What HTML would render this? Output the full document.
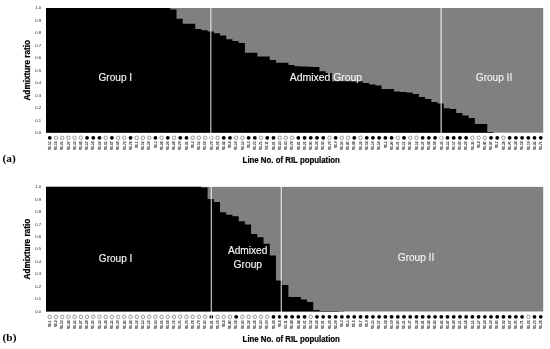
<!DOCTYPE html>
<html><head><meta charset="utf-8"><title>Admixture ratio of RIL population</title>
<style>
html,body{margin:0;padding:0;background:#fff;}
svg{display:block;}
text{font-family:"Liberation Sans",sans-serif;}
.tk{font-size:4.2px;fill:#111;}
.lb{font-size:3.3px;fill:#111;stroke:#111;stroke-width:0.06px;}
.yt{font-size:8.6px;font-weight:bold;fill:#000;stroke:#000;stroke-width:0.25px;}
.xt{font-size:8.5px;font-weight:bold;fill:#000;stroke:#000;stroke-width:0.2px;}
.gp{font-size:10.1px;fill:#f4f4f4;stroke:#f4f4f4;stroke-width:0.15px;}
.pl{font-family:"Liberation Serif",serif;font-size:11.3px;font-weight:bold;fill:#000;}
</style></head><body>
<svg width="550" height="349" viewBox="0 0 550 349">
<rect width="550" height="349" fill="#fff"/>
<rect x="46.0" y="8.0" width="497.20" height="124.70" fill="#808080"/>
<polygon points="46.00,132.70 46.00,8.00 52.22,8.00 52.22,8.00 58.43,8.00 58.43,8.00 64.65,8.00 64.65,8.00 70.86,8.00 70.86,8.00 77.08,8.00 77.08,8.00 83.29,8.00 83.29,8.00 89.50,8.00 89.50,8.00 95.72,8.00 95.72,8.00 101.94,8.00 101.94,8.00 108.15,8.00 108.15,8.00 114.37,8.00 114.37,8.00 120.58,8.00 120.58,8.00 126.80,8.00 126.80,8.00 133.01,8.00 133.01,8.00 139.23,8.00 139.23,8.00 145.44,8.00 145.44,8.00 151.66,8.00 151.66,8.00 157.87,8.00 157.87,8.00 164.09,8.00 164.09,8.00 170.30,8.00 170.30,9.50 176.52,9.50 176.52,18.85 182.73,18.85 182.73,23.84 188.95,23.84 188.95,23.84 195.16,23.84 195.16,29.07 201.38,29.07 201.38,30.32 207.59,30.32 207.59,31.57 213.81,31.57 213.81,33.19 220.02,33.19 220.02,35.56 226.24,35.56 226.24,39.30 232.45,39.30 232.45,41.05 238.67,41.05 238.67,43.04 244.88,43.04 244.88,52.64 251.10,52.64 251.10,52.64 257.31,52.64 257.31,56.51 263.53,56.51 263.53,56.51 269.74,56.51 269.74,60.06 275.96,60.06 275.96,62.87 282.17,62.87 282.17,62.87 288.38,62.87 288.38,65.11 294.60,65.11 294.60,66.23 300.82,66.23 300.82,66.48 307.03,66.48 307.03,66.73 313.25,66.73 313.25,66.98 319.46,66.98 319.46,71.16 325.68,71.16 325.68,73.09 331.89,73.09 331.89,81.32 338.11,81.32 338.11,81.32 344.32,81.32 344.32,81.32 350.54,81.32 350.54,81.45 356.75,81.45 356.75,81.45 362.97,81.45 362.97,83.07 369.18,83.07 369.18,84.57 375.40,84.57 375.40,85.56 381.61,85.56 381.61,88.93 387.83,88.93 387.83,88.93 394.04,88.93 394.04,91.42 400.26,91.42 400.26,91.92 406.47,91.92 406.47,92.42 412.69,92.42 412.69,94.04 418.90,94.04 418.90,97.04 425.12,97.04 425.12,99.03 431.33,99.03 431.33,101.90 437.55,101.90 437.55,103.58 443.76,103.58 443.76,108.13 449.98,108.13 449.98,108.88 456.19,108.88 456.19,113.00 462.41,113.00 462.41,115.62 468.62,115.62 468.62,118.11 474.84,118.11 474.84,124.10 481.05,124.10 481.05,124.10 487.27,124.10 487.27,131.95 493.48,131.95 493.48,132.70 499.70,132.70 499.70,132.70 505.91,132.70 505.91,132.70 512.12,132.70 512.12,132.70 518.34,132.70 518.34,132.70 524.56,132.70 524.56,132.70 530.77,132.70 530.77,132.70 536.99,132.70 536.99,132.70 543.20,132.70 543.20,132.70" fill="#000"/>
<text class="tk" x="41" y="134.00" text-anchor="end">0.0</text>
<text class="tk" x="41" y="121.53" text-anchor="end">0.1</text>
<text class="tk" x="41" y="109.06" text-anchor="end">0.2</text>
<text class="tk" x="41" y="96.59" text-anchor="end">0.3</text>
<text class="tk" x="41" y="84.12" text-anchor="end">0.4</text>
<text class="tk" x="41" y="71.65" text-anchor="end">0.5</text>
<text class="tk" x="41" y="59.18" text-anchor="end">0.6</text>
<text class="tk" x="41" y="46.71" text-anchor="end">0.7</text>
<text class="tk" x="41" y="34.24" text-anchor="end">0.8</text>
<text class="tk" x="41" y="21.77" text-anchor="end">0.9</text>
<text class="tk" x="41" y="9.30" text-anchor="end">1.0</text>
<circle cx="49.75" cy="137.8" r="1.9" fill="#000"/>
<text class="lb" transform="translate(50.95,141.4) rotate(-90)" text-anchor="end">RIL13</text>
<circle cx="55.97" cy="137.8" r="1.75" fill="#fff" stroke="#222" stroke-width="0.45"/>
<text class="lb" transform="translate(57.17,141.4) rotate(-90)" text-anchor="end">RIL16</text>
<circle cx="62.18" cy="137.8" r="1.75" fill="#fff" stroke="#222" stroke-width="0.45"/>
<text class="lb" transform="translate(63.38,141.4) rotate(-90)" text-anchor="end">RIL25</text>
<circle cx="68.39" cy="137.8" r="1.75" fill="#fff" stroke="#222" stroke-width="0.45"/>
<text class="lb" transform="translate(69.59,141.4) rotate(-90)" text-anchor="end">RIL27</text>
<circle cx="74.61" cy="137.8" r="1.75" fill="#fff" stroke="#222" stroke-width="0.45"/>
<text class="lb" transform="translate(75.81,141.4) rotate(-90)" text-anchor="end">RIL33</text>
<circle cx="80.83" cy="137.8" r="1.75" fill="#fff" stroke="#222" stroke-width="0.45"/>
<text class="lb" transform="translate(82.03,141.4) rotate(-90)" text-anchor="end">RIL46</text>
<circle cx="87.04" cy="137.8" r="1.9" fill="#000"/>
<text class="lb" transform="translate(88.24,141.4) rotate(-90)" text-anchor="end">RIL57</text>
<circle cx="93.25" cy="137.8" r="1.9" fill="#000"/>
<text class="lb" transform="translate(94.45,141.4) rotate(-90)" text-anchor="end">RIL58</text>
<circle cx="99.47" cy="137.8" r="1.9" fill="#000"/>
<text class="lb" transform="translate(100.67,141.4) rotate(-90)" text-anchor="end">RIL62</text>
<circle cx="105.69" cy="137.8" r="1.75" fill="#fff" stroke="#222" stroke-width="0.45"/>
<text class="lb" transform="translate(106.89,141.4) rotate(-90)" text-anchor="end">RIL65</text>
<circle cx="111.90" cy="137.8" r="1.9" fill="#000"/>
<text class="lb" transform="translate(113.10,141.4) rotate(-90)" text-anchor="end">RIL67</text>
<circle cx="118.11" cy="137.8" r="1.75" fill="#fff" stroke="#222" stroke-width="0.45"/>
<text class="lb" transform="translate(119.31,141.4) rotate(-90)" text-anchor="end">RIL68</text>
<circle cx="124.33" cy="137.8" r="1.75" fill="#fff" stroke="#222" stroke-width="0.45"/>
<text class="lb" transform="translate(125.53,141.4) rotate(-90)" text-anchor="end">RIL72</text>
<circle cx="130.55" cy="137.8" r="1.9" fill="#000"/>
<text class="lb" transform="translate(131.75,141.4) rotate(-90)" text-anchor="end">RIL74</text>
<circle cx="136.76" cy="137.8" r="1.75" fill="#fff" stroke="#222" stroke-width="0.45"/>
<text class="lb" transform="translate(137.96,141.4) rotate(-90)" text-anchor="end">RIL1</text>
<circle cx="142.97" cy="137.8" r="1.75" fill="#fff" stroke="#222" stroke-width="0.45"/>
<text class="lb" transform="translate(144.17,141.4) rotate(-90)" text-anchor="end">RIL12</text>
<circle cx="149.19" cy="137.8" r="1.75" fill="#fff" stroke="#222" stroke-width="0.45"/>
<text class="lb" transform="translate(150.39,141.4) rotate(-90)" text-anchor="end">RIL39</text>
<circle cx="155.41" cy="137.8" r="1.9" fill="#000"/>
<text class="lb" transform="translate(156.60,141.4) rotate(-90)" text-anchor="end">RIL3</text>
<circle cx="161.62" cy="137.8" r="1.75" fill="#fff" stroke="#222" stroke-width="0.45"/>
<text class="lb" transform="translate(162.82,141.4) rotate(-90)" text-anchor="end">RIL24</text>
<circle cx="167.83" cy="137.8" r="1.9" fill="#000"/>
<text class="lb" transform="translate(169.03,141.4) rotate(-90)" text-anchor="end">RIL26</text>
<circle cx="174.05" cy="137.8" r="1.75" fill="#fff" stroke="#222" stroke-width="0.45"/>
<text class="lb" transform="translate(175.25,141.4) rotate(-90)" text-anchor="end">RIL28</text>
<circle cx="180.26" cy="137.8" r="1.9" fill="#000"/>
<text class="lb" transform="translate(181.46,141.4) rotate(-90)" text-anchor="end">RIL29</text>
<circle cx="186.48" cy="137.8" r="1.9" fill="#000"/>
<text class="lb" transform="translate(187.68,141.4) rotate(-90)" text-anchor="end">RIL41</text>
<circle cx="192.69" cy="137.8" r="1.75" fill="#fff" stroke="#222" stroke-width="0.45"/>
<text class="lb" transform="translate(193.89,141.4) rotate(-90)" text-anchor="end">RIL2</text>
<circle cx="198.91" cy="137.8" r="1.75" fill="#fff" stroke="#222" stroke-width="0.45"/>
<text class="lb" transform="translate(200.11,141.4) rotate(-90)" text-anchor="end">RIL15</text>
<circle cx="205.12" cy="137.8" r="1.75" fill="#fff" stroke="#222" stroke-width="0.45"/>
<text class="lb" transform="translate(206.32,141.4) rotate(-90)" text-anchor="end">RIL69</text>
<circle cx="211.34" cy="137.8" r="1.75" fill="#fff" stroke="#222" stroke-width="0.45"/>
<text class="lb" transform="translate(212.54,141.4) rotate(-90)" text-anchor="end">RIL76</text>
<circle cx="217.56" cy="137.8" r="1.75" fill="#fff" stroke="#222" stroke-width="0.45"/>
<text class="lb" transform="translate(218.75,141.4) rotate(-90)" text-anchor="end">RIL66</text>
<circle cx="223.77" cy="137.8" r="1.9" fill="#000"/>
<text class="lb" transform="translate(224.97,141.4) rotate(-90)" text-anchor="end">RIL42</text>
<circle cx="229.98" cy="137.8" r="1.9" fill="#000"/>
<text class="lb" transform="translate(231.18,141.4) rotate(-90)" text-anchor="end">RIL4</text>
<circle cx="236.20" cy="137.8" r="1.75" fill="#fff" stroke="#222" stroke-width="0.45"/>
<text class="lb" transform="translate(237.40,141.4) rotate(-90)" text-anchor="end">RIL56</text>
<circle cx="242.41" cy="137.8" r="1.75" fill="#fff" stroke="#222" stroke-width="0.45"/>
<text class="lb" transform="translate(243.61,141.4) rotate(-90)" text-anchor="end">RIL53</text>
<circle cx="248.63" cy="137.8" r="1.9" fill="#000"/>
<text class="lb" transform="translate(249.83,141.4) rotate(-90)" text-anchor="end">RIL6</text>
<circle cx="254.84" cy="137.8" r="1.9" fill="#000"/>
<text class="lb" transform="translate(256.05,141.4) rotate(-90)" text-anchor="end">RIL73</text>
<circle cx="261.06" cy="137.8" r="1.75" fill="#fff" stroke="#222" stroke-width="0.45"/>
<text class="lb" transform="translate(262.26,141.4) rotate(-90)" text-anchor="end">RIL75</text>
<circle cx="267.27" cy="137.8" r="1.9" fill="#000"/>
<text class="lb" transform="translate(268.47,141.4) rotate(-90)" text-anchor="end">RIL11</text>
<circle cx="273.49" cy="137.8" r="1.9" fill="#000"/>
<text class="lb" transform="translate(274.69,141.4) rotate(-90)" text-anchor="end">RIL61</text>
<circle cx="279.70" cy="137.8" r="1.75" fill="#fff" stroke="#222" stroke-width="0.45"/>
<text class="lb" transform="translate(280.90,141.4) rotate(-90)" text-anchor="end">RIL23</text>
<circle cx="285.92" cy="137.8" r="1.75" fill="#fff" stroke="#222" stroke-width="0.45"/>
<text class="lb" transform="translate(287.12,141.4) rotate(-90)" text-anchor="end">RIL63</text>
<circle cx="292.13" cy="137.8" r="1.75" fill="#fff" stroke="#222" stroke-width="0.45"/>
<text class="lb" transform="translate(293.33,141.4) rotate(-90)" text-anchor="end">RIL78</text>
<circle cx="298.35" cy="137.8" r="1.9" fill="#000"/>
<text class="lb" transform="translate(299.55,141.4) rotate(-90)" text-anchor="end">RIL81</text>
<circle cx="304.56" cy="137.8" r="1.9" fill="#000"/>
<text class="lb" transform="translate(305.76,141.4) rotate(-90)" text-anchor="end">RIL21</text>
<circle cx="310.78" cy="137.8" r="1.9" fill="#000"/>
<text class="lb" transform="translate(311.98,141.4) rotate(-90)" text-anchor="end">RIL60</text>
<circle cx="317.00" cy="137.8" r="1.9" fill="#000"/>
<text class="lb" transform="translate(318.19,141.4) rotate(-90)" text-anchor="end">RIL36</text>
<circle cx="323.21" cy="137.8" r="1.9" fill="#000"/>
<text class="lb" transform="translate(324.41,141.4) rotate(-90)" text-anchor="end">RIL43</text>
<circle cx="329.43" cy="137.8" r="1.75" fill="#fff" stroke="#222" stroke-width="0.45"/>
<text class="lb" transform="translate(330.62,141.4) rotate(-90)" text-anchor="end">RIL79</text>
<circle cx="335.64" cy="137.8" r="1.9" fill="#000"/>
<text class="lb" transform="translate(336.84,141.4) rotate(-90)" text-anchor="end">RIL9</text>
<circle cx="341.86" cy="137.8" r="1.75" fill="#fff" stroke="#222" stroke-width="0.45"/>
<text class="lb" transform="translate(343.06,141.4) rotate(-90)" text-anchor="end">RIL50</text>
<circle cx="348.07" cy="137.8" r="1.75" fill="#fff" stroke="#222" stroke-width="0.45"/>
<text class="lb" transform="translate(349.27,141.4) rotate(-90)" text-anchor="end">RIL80</text>
<circle cx="354.28" cy="137.8" r="1.9" fill="#000"/>
<text class="lb" transform="translate(355.48,141.4) rotate(-90)" text-anchor="end">RIL44</text>
<circle cx="360.50" cy="137.8" r="1.75" fill="#fff" stroke="#222" stroke-width="0.45"/>
<text class="lb" transform="translate(361.70,141.4) rotate(-90)" text-anchor="end">RIL32</text>
<circle cx="366.71" cy="137.8" r="1.9" fill="#000"/>
<text class="lb" transform="translate(367.91,141.4) rotate(-90)" text-anchor="end">RIL14</text>
<circle cx="372.93" cy="137.8" r="1.9" fill="#000"/>
<text class="lb" transform="translate(374.13,141.4) rotate(-90)" text-anchor="end">RIL59</text>
<circle cx="379.14" cy="137.8" r="1.9" fill="#000"/>
<text class="lb" transform="translate(380.34,141.4) rotate(-90)" text-anchor="end">RIL54</text>
<circle cx="385.36" cy="137.8" r="1.9" fill="#000"/>
<text class="lb" transform="translate(386.56,141.4) rotate(-90)" text-anchor="end">RIL5</text>
<circle cx="391.57" cy="137.8" r="1.9" fill="#000"/>
<text class="lb" transform="translate(392.77,141.4) rotate(-90)" text-anchor="end">RIL20</text>
<circle cx="397.79" cy="137.8" r="1.75" fill="#fff" stroke="#222" stroke-width="0.45"/>
<text class="lb" transform="translate(398.99,141.4) rotate(-90)" text-anchor="end">RIL31</text>
<circle cx="404.00" cy="137.8" r="1.9" fill="#000"/>
<text class="lb" transform="translate(405.20,141.4) rotate(-90)" text-anchor="end">RIL51</text>
<circle cx="410.22" cy="137.8" r="1.75" fill="#fff" stroke="#222" stroke-width="0.45"/>
<text class="lb" transform="translate(411.42,141.4) rotate(-90)" text-anchor="end">RIL10</text>
<circle cx="416.44" cy="137.8" r="1.75" fill="#fff" stroke="#222" stroke-width="0.45"/>
<text class="lb" transform="translate(417.63,141.4) rotate(-90)" text-anchor="end">RIL52</text>
<circle cx="422.65" cy="137.8" r="1.9" fill="#000"/>
<text class="lb" transform="translate(423.85,141.4) rotate(-90)" text-anchor="end">RIL37</text>
<circle cx="428.87" cy="137.8" r="1.9" fill="#000"/>
<text class="lb" transform="translate(430.06,141.4) rotate(-90)" text-anchor="end">RIL48</text>
<circle cx="435.08" cy="137.8" r="1.9" fill="#000"/>
<text class="lb" transform="translate(436.28,141.4) rotate(-90)" text-anchor="end">RIL64</text>
<circle cx="441.30" cy="137.8" r="1.75" fill="#fff" stroke="#222" stroke-width="0.45"/>
<text class="lb" transform="translate(442.50,141.4) rotate(-90)" text-anchor="end">RIL35</text>
<circle cx="447.51" cy="137.8" r="1.9" fill="#000"/>
<text class="lb" transform="translate(448.71,141.4) rotate(-90)" text-anchor="end">RIL55</text>
<circle cx="453.72" cy="137.8" r="1.9" fill="#000"/>
<text class="lb" transform="translate(454.92,141.4) rotate(-90)" text-anchor="end">RIL17</text>
<circle cx="459.94" cy="137.8" r="1.9" fill="#000"/>
<text class="lb" transform="translate(461.14,141.4) rotate(-90)" text-anchor="end">RIL49</text>
<circle cx="466.15" cy="137.8" r="1.9" fill="#000"/>
<text class="lb" transform="translate(467.35,141.4) rotate(-90)" text-anchor="end">RIL22</text>
<circle cx="472.37" cy="137.8" r="1.75" fill="#fff" stroke="#222" stroke-width="0.45"/>
<text class="lb" transform="translate(473.57,141.4) rotate(-90)" text-anchor="end">RIL30</text>
<circle cx="478.58" cy="137.8" r="1.75" fill="#fff" stroke="#222" stroke-width="0.45"/>
<text class="lb" transform="translate(479.78,141.4) rotate(-90)" text-anchor="end">RIL8</text>
<circle cx="484.80" cy="137.8" r="1.75" fill="#fff" stroke="#222" stroke-width="0.45"/>
<text class="lb" transform="translate(486.00,141.4) rotate(-90)" text-anchor="end">RIL40</text>
<circle cx="491.01" cy="137.8" r="1.9" fill="#000"/>
<text class="lb" transform="translate(492.21,141.4) rotate(-90)" text-anchor="end">RIL47</text>
<circle cx="497.23" cy="137.8" r="1.9" fill="#000"/>
<text class="lb" transform="translate(498.43,141.4) rotate(-90)" text-anchor="end">RIL7</text>
<circle cx="503.44" cy="137.8" r="1.75" fill="#fff" stroke="#222" stroke-width="0.45"/>
<text class="lb" transform="translate(504.64,141.4) rotate(-90)" text-anchor="end">RIL34</text>
<circle cx="509.66" cy="137.8" r="1.9" fill="#000"/>
<text class="lb" transform="translate(510.86,141.4) rotate(-90)" text-anchor="end">RIL70</text>
<circle cx="515.88" cy="137.8" r="1.9" fill="#000"/>
<text class="lb" transform="translate(517.08,141.4) rotate(-90)" text-anchor="end">RIL38</text>
<circle cx="522.09" cy="137.8" r="1.9" fill="#000"/>
<text class="lb" transform="translate(523.29,141.4) rotate(-90)" text-anchor="end">RIL18</text>
<circle cx="528.31" cy="137.8" r="1.9" fill="#000"/>
<text class="lb" transform="translate(529.51,141.4) rotate(-90)" text-anchor="end">RIL19</text>
<circle cx="534.52" cy="137.8" r="1.9" fill="#000"/>
<text class="lb" transform="translate(535.72,141.4) rotate(-90)" text-anchor="end">RIL45</text>
<circle cx="540.74" cy="137.8" r="1.9" fill="#000"/>
<text class="lb" transform="translate(541.94,141.4) rotate(-90)" text-anchor="end">RIL71</text>
<rect x="210.40" y="7.0" width="0.9" height="132.80" fill="#fff"/>
<rect x="440.60" y="7.0" width="1.0" height="132.80" fill="#fff"/>
<text class="yt" transform="translate(29.5,100.55) rotate(-90)" textLength="60.6" lengthAdjust="spacingAndGlyphs">Admixture ratio</text>
<text class="gp" x="98.5" y="81.1" textLength="33.6" lengthAdjust="spacingAndGlyphs">Group I</text>
<text class="gp" x="289.8" y="81.1" textLength="72.3" lengthAdjust="spacingAndGlyphs">Admixed Group</text>
<text class="gp" x="475.8" y="81.0" textLength="36.4" lengthAdjust="spacingAndGlyphs">Group II</text>
<text class="pl" x="2.6" y="162.3">(a)</text>
<text class="xt" x="242.6" y="162.7" textLength="97.3" lengthAdjust="spacingAndGlyphs">Line No. of RIL population</text>
<rect x="46.0" y="186.85" width="497.20" height="124.65" fill="#808080"/>
<polygon points="46.00,311.50 46.00,186.85 52.22,186.85 52.22,186.85 58.43,186.85 58.43,186.85 64.65,186.85 64.65,186.85 70.86,186.85 70.86,186.85 77.08,186.85 77.08,186.85 83.29,186.85 83.29,186.85 89.50,186.85 89.50,186.85 95.72,186.85 95.72,186.85 101.94,186.85 101.94,186.85 108.15,186.85 108.15,186.85 114.37,186.85 114.37,186.85 120.58,186.85 120.58,186.85 126.80,186.85 126.80,186.85 133.01,186.85 133.01,186.85 139.23,186.85 139.23,186.85 145.44,186.85 145.44,186.85 151.66,186.85 151.66,186.85 157.87,186.85 157.87,186.85 164.09,186.85 164.09,186.85 170.30,186.85 170.30,186.85 176.52,186.85 176.52,186.85 182.73,186.85 182.73,186.85 188.95,186.85 188.95,186.85 195.16,186.85 195.16,186.85 201.38,186.85 201.38,187.47 207.59,187.47 207.59,199.07 213.81,199.07 213.81,202.06 220.02,202.06 220.02,212.15 226.24,212.15 226.24,214.82 232.45,214.82 232.45,216.27 238.67,216.27 238.67,221.25 244.88,221.25 244.88,224.62 251.10,224.62 251.10,233.97 257.31,233.97 257.31,237.21 263.53,237.21 263.53,243.85 269.74,243.85 269.74,255.59 275.96,255.59 275.96,280.50 282.17,280.50 282.17,285.00 288.38,285.00 288.38,297.07 294.60,297.07 294.60,297.07 300.82,297.07 300.82,299.58 307.03,299.58 307.03,302.09 313.25,302.09 313.25,310.00 319.46,310.00 319.46,311.00 325.68,311.00 325.68,311.00 331.89,311.00 331.89,311.00 338.11,311.00 338.11,311.13 344.32,311.13 344.32,311.50 350.54,311.50 350.54,311.50 356.75,311.50 356.75,311.50 362.97,311.50 362.97,311.50 369.18,311.50 369.18,311.50 375.40,311.50 375.40,311.50 381.61,311.50 381.61,311.50 387.83,311.50 387.83,311.50 394.04,311.50 394.04,311.50 400.26,311.50 400.26,311.50 406.47,311.50 406.47,311.50 412.69,311.50 412.69,311.50 418.90,311.50 418.90,311.50 425.12,311.50 425.12,311.50 431.33,311.50 431.33,311.50 437.55,311.50 437.55,311.50 443.76,311.50 443.76,311.50 449.98,311.50 449.98,311.50 456.19,311.50 456.19,311.50 462.41,311.50 462.41,311.50 468.62,311.50 468.62,311.50 474.84,311.50 474.84,311.50 481.05,311.50 481.05,311.50 487.27,311.50 487.27,311.50 493.48,311.50 493.48,311.50 499.70,311.50 499.70,311.50 505.91,311.50 505.91,311.50 512.12,311.50 512.12,311.50 518.34,311.50 518.34,311.50 524.56,311.50 524.56,311.50 530.77,311.50 530.77,311.50 536.99,311.50 536.99,311.50 543.20,311.50 543.20,311.50" fill="#000"/>
<text class="tk" x="41" y="312.80" text-anchor="end">0.0</text>
<text class="tk" x="41" y="300.33" text-anchor="end">0.1</text>
<text class="tk" x="41" y="287.87" text-anchor="end">0.2</text>
<text class="tk" x="41" y="275.41" text-anchor="end">0.3</text>
<text class="tk" x="41" y="262.94" text-anchor="end">0.4</text>
<text class="tk" x="41" y="250.48" text-anchor="end">0.5</text>
<text class="tk" x="41" y="238.01" text-anchor="end">0.6</text>
<text class="tk" x="41" y="225.55" text-anchor="end">0.7</text>
<text class="tk" x="41" y="213.08" text-anchor="end">0.8</text>
<text class="tk" x="41" y="200.62" text-anchor="end">0.9</text>
<text class="tk" x="41" y="188.15" text-anchor="end">1.0</text>
<circle cx="49.75" cy="316.8" r="1.75" fill="#fff" stroke="#222" stroke-width="0.45"/>
<text class="lb" transform="translate(50.95,320.4) rotate(-90)" text-anchor="end">RIL1</text>
<circle cx="55.97" cy="316.8" r="1.75" fill="#fff" stroke="#222" stroke-width="0.45"/>
<text class="lb" transform="translate(57.17,320.4) rotate(-90)" text-anchor="end">RIL2</text>
<circle cx="62.18" cy="316.8" r="1.75" fill="#fff" stroke="#222" stroke-width="0.45"/>
<text class="lb" transform="translate(63.38,320.4) rotate(-90)" text-anchor="end">RIL13</text>
<circle cx="68.39" cy="316.8" r="1.75" fill="#fff" stroke="#222" stroke-width="0.45"/>
<text class="lb" transform="translate(69.59,320.4) rotate(-90)" text-anchor="end">RIL24</text>
<circle cx="74.61" cy="316.8" r="1.75" fill="#fff" stroke="#222" stroke-width="0.45"/>
<text class="lb" transform="translate(75.81,320.4) rotate(-90)" text-anchor="end">RIL25</text>
<circle cx="80.83" cy="316.8" r="1.75" fill="#fff" stroke="#222" stroke-width="0.45"/>
<text class="lb" transform="translate(82.03,320.4) rotate(-90)" text-anchor="end">RIL27</text>
<circle cx="87.04" cy="316.8" r="1.75" fill="#fff" stroke="#222" stroke-width="0.45"/>
<text class="lb" transform="translate(88.24,320.4) rotate(-90)" text-anchor="end">RIL28</text>
<circle cx="93.25" cy="316.8" r="1.75" fill="#fff" stroke="#222" stroke-width="0.45"/>
<text class="lb" transform="translate(94.45,320.4) rotate(-90)" text-anchor="end">RIL30</text>
<circle cx="99.47" cy="316.8" r="1.75" fill="#fff" stroke="#222" stroke-width="0.45"/>
<text class="lb" transform="translate(100.67,320.4) rotate(-90)" text-anchor="end">RIL33</text>
<circle cx="105.69" cy="316.8" r="1.75" fill="#fff" stroke="#222" stroke-width="0.45"/>
<text class="lb" transform="translate(106.89,320.4) rotate(-90)" text-anchor="end">RIL34</text>
<circle cx="111.90" cy="316.8" r="1.75" fill="#fff" stroke="#222" stroke-width="0.45"/>
<text class="lb" transform="translate(113.10,320.4) rotate(-90)" text-anchor="end">RIL35</text>
<circle cx="118.11" cy="316.8" r="1.75" fill="#fff" stroke="#222" stroke-width="0.45"/>
<text class="lb" transform="translate(119.31,320.4) rotate(-90)" text-anchor="end">RIL39</text>
<circle cx="124.33" cy="316.8" r="1.75" fill="#fff" stroke="#222" stroke-width="0.45"/>
<text class="lb" transform="translate(125.53,320.4) rotate(-90)" text-anchor="end">RIL40</text>
<circle cx="130.55" cy="316.8" r="1.75" fill="#fff" stroke="#222" stroke-width="0.45"/>
<text class="lb" transform="translate(131.75,320.4) rotate(-90)" text-anchor="end">RIL46</text>
<circle cx="136.76" cy="316.8" r="1.75" fill="#fff" stroke="#222" stroke-width="0.45"/>
<text class="lb" transform="translate(137.96,320.4) rotate(-90)" text-anchor="end">RIL52</text>
<circle cx="142.97" cy="316.8" r="1.75" fill="#fff" stroke="#222" stroke-width="0.45"/>
<text class="lb" transform="translate(144.17,320.4) rotate(-90)" text-anchor="end">RIL53</text>
<circle cx="149.19" cy="316.8" r="1.75" fill="#fff" stroke="#222" stroke-width="0.45"/>
<text class="lb" transform="translate(150.39,320.4) rotate(-90)" text-anchor="end">RIL56</text>
<circle cx="155.41" cy="316.8" r="1.75" fill="#fff" stroke="#222" stroke-width="0.45"/>
<text class="lb" transform="translate(156.60,320.4) rotate(-90)" text-anchor="end">RIL63</text>
<circle cx="161.62" cy="316.8" r="1.75" fill="#fff" stroke="#222" stroke-width="0.45"/>
<text class="lb" transform="translate(162.82,320.4) rotate(-90)" text-anchor="end">RIL65</text>
<circle cx="167.83" cy="316.8" r="1.75" fill="#fff" stroke="#222" stroke-width="0.45"/>
<text class="lb" transform="translate(169.03,320.4) rotate(-90)" text-anchor="end">RIL68</text>
<circle cx="174.05" cy="316.8" r="1.75" fill="#fff" stroke="#222" stroke-width="0.45"/>
<text class="lb" transform="translate(175.25,320.4) rotate(-90)" text-anchor="end">RIL72</text>
<circle cx="180.26" cy="316.8" r="1.75" fill="#fff" stroke="#222" stroke-width="0.45"/>
<text class="lb" transform="translate(181.46,320.4) rotate(-90)" text-anchor="end">RIL75</text>
<circle cx="186.48" cy="316.8" r="1.75" fill="#fff" stroke="#222" stroke-width="0.45"/>
<text class="lb" transform="translate(187.68,320.4) rotate(-90)" text-anchor="end">RIL76</text>
<circle cx="192.69" cy="316.8" r="1.75" fill="#fff" stroke="#222" stroke-width="0.45"/>
<text class="lb" transform="translate(193.89,320.4) rotate(-90)" text-anchor="end">RIL78</text>
<circle cx="198.91" cy="316.8" r="1.75" fill="#fff" stroke="#222" stroke-width="0.45"/>
<text class="lb" transform="translate(200.11,320.4) rotate(-90)" text-anchor="end">RIL79</text>
<circle cx="205.12" cy="316.8" r="1.75" fill="#fff" stroke="#222" stroke-width="0.45"/>
<text class="lb" transform="translate(206.32,320.4) rotate(-90)" text-anchor="end">RIL50</text>
<circle cx="211.34" cy="316.8" r="1.9" fill="#000"/>
<text class="lb" transform="translate(212.54,320.4) rotate(-90)" text-anchor="end">RIL81</text>
<circle cx="217.56" cy="316.8" r="1.75" fill="#fff" stroke="#222" stroke-width="0.45"/>
<text class="lb" transform="translate(218.75,320.4) rotate(-90)" text-anchor="end">RIL16</text>
<circle cx="223.77" cy="316.8" r="1.75" fill="#fff" stroke="#222" stroke-width="0.45"/>
<text class="lb" transform="translate(224.97,320.4) rotate(-90)" text-anchor="end">RIL8</text>
<circle cx="229.98" cy="316.8" r="1.75" fill="#fff" stroke="#222" stroke-width="0.45"/>
<text class="lb" transform="translate(231.18,320.4) rotate(-90)" text-anchor="end">RIL80</text>
<circle cx="236.20" cy="316.8" r="1.9" fill="#000"/>
<text class="lb" transform="translate(237.40,320.4) rotate(-90)" text-anchor="end">RIL14</text>
<circle cx="242.41" cy="316.8" r="1.75" fill="#fff" stroke="#222" stroke-width="0.45"/>
<text class="lb" transform="translate(243.61,320.4) rotate(-90)" text-anchor="end">RIL10</text>
<circle cx="248.63" cy="316.8" r="1.75" fill="#fff" stroke="#222" stroke-width="0.45"/>
<text class="lb" transform="translate(249.83,320.4) rotate(-90)" text-anchor="end">RIL32</text>
<circle cx="254.84" cy="316.8" r="1.75" fill="#fff" stroke="#222" stroke-width="0.45"/>
<text class="lb" transform="translate(256.05,320.4) rotate(-90)" text-anchor="end">RIL36</text>
<circle cx="261.06" cy="316.8" r="1.75" fill="#fff" stroke="#222" stroke-width="0.45"/>
<text class="lb" transform="translate(262.26,320.4) rotate(-90)" text-anchor="end">RIL23</text>
<circle cx="267.27" cy="316.8" r="1.75" fill="#fff" stroke="#222" stroke-width="0.45"/>
<text class="lb" transform="translate(268.47,320.4) rotate(-90)" text-anchor="end">RIL69</text>
<circle cx="273.49" cy="316.8" r="1.9" fill="#000"/>
<text class="lb" transform="translate(274.69,320.4) rotate(-90)" text-anchor="end">RIL64</text>
<circle cx="279.70" cy="316.8" r="1.9" fill="#000"/>
<text class="lb" transform="translate(280.90,320.4) rotate(-90)" text-anchor="end">RIL4</text>
<circle cx="285.92" cy="316.8" r="1.9" fill="#000"/>
<text class="lb" transform="translate(287.12,320.4) rotate(-90)" text-anchor="end">RIL11</text>
<circle cx="292.13" cy="316.8" r="1.9" fill="#000"/>
<text class="lb" transform="translate(293.33,320.4) rotate(-90)" text-anchor="end">RIL48</text>
<circle cx="298.35" cy="316.8" r="1.9" fill="#000"/>
<text class="lb" transform="translate(299.55,320.4) rotate(-90)" text-anchor="end">RIL44</text>
<circle cx="304.56" cy="316.8" r="1.9" fill="#000"/>
<text class="lb" transform="translate(305.76,320.4) rotate(-90)" text-anchor="end">RIL21</text>
<circle cx="310.78" cy="316.8" r="1.75" fill="#fff" stroke="#222" stroke-width="0.45"/>
<text class="lb" transform="translate(311.98,320.4) rotate(-90)" text-anchor="end">RIL12</text>
<circle cx="317.00" cy="316.8" r="1.9" fill="#000"/>
<text class="lb" transform="translate(318.19,320.4) rotate(-90)" text-anchor="end">RIL22</text>
<circle cx="323.21" cy="316.8" r="1.9" fill="#000"/>
<text class="lb" transform="translate(324.41,320.4) rotate(-90)" text-anchor="end">RIL61</text>
<circle cx="329.43" cy="316.8" r="1.9" fill="#000"/>
<text class="lb" transform="translate(330.62,320.4) rotate(-90)" text-anchor="end">RIL26</text>
<circle cx="335.64" cy="316.8" r="1.9" fill="#000"/>
<text class="lb" transform="translate(336.84,320.4) rotate(-90)" text-anchor="end">RIL29</text>
<circle cx="341.86" cy="316.8" r="1.9" fill="#000"/>
<text class="lb" transform="translate(343.06,320.4) rotate(-90)" text-anchor="end">RIL3</text>
<circle cx="348.07" cy="316.8" r="1.9" fill="#000"/>
<text class="lb" transform="translate(349.27,320.4) rotate(-90)" text-anchor="end">RIL5</text>
<circle cx="354.28" cy="316.8" r="1.9" fill="#000"/>
<text class="lb" transform="translate(355.48,320.4) rotate(-90)" text-anchor="end">RIL6</text>
<circle cx="360.50" cy="316.8" r="1.9" fill="#000"/>
<text class="lb" transform="translate(361.70,320.4) rotate(-90)" text-anchor="end">RIL7</text>
<circle cx="366.71" cy="316.8" r="1.9" fill="#000"/>
<text class="lb" transform="translate(367.91,320.4) rotate(-90)" text-anchor="end">RIL9</text>
<circle cx="372.93" cy="316.8" r="1.9" fill="#000"/>
<text class="lb" transform="translate(374.13,320.4) rotate(-90)" text-anchor="end">RIL15</text>
<circle cx="379.14" cy="316.8" r="1.9" fill="#000"/>
<text class="lb" transform="translate(380.34,320.4) rotate(-90)" text-anchor="end">RIL17</text>
<circle cx="385.36" cy="316.8" r="1.9" fill="#000"/>
<text class="lb" transform="translate(386.56,320.4) rotate(-90)" text-anchor="end">RIL18</text>
<circle cx="391.57" cy="316.8" r="1.9" fill="#000"/>
<text class="lb" transform="translate(392.77,320.4) rotate(-90)" text-anchor="end">RIL19</text>
<circle cx="397.79" cy="316.8" r="1.9" fill="#000"/>
<text class="lb" transform="translate(398.99,320.4) rotate(-90)" text-anchor="end">RIL20</text>
<circle cx="404.00" cy="316.8" r="1.9" fill="#000"/>
<text class="lb" transform="translate(405.20,320.4) rotate(-90)" text-anchor="end">RIL31</text>
<circle cx="410.22" cy="316.8" r="1.9" fill="#000"/>
<text class="lb" transform="translate(411.42,320.4) rotate(-90)" text-anchor="end">RIL37</text>
<circle cx="416.44" cy="316.8" r="1.9" fill="#000"/>
<text class="lb" transform="translate(417.63,320.4) rotate(-90)" text-anchor="end">RIL38</text>
<circle cx="422.65" cy="316.8" r="1.9" fill="#000"/>
<text class="lb" transform="translate(423.85,320.4) rotate(-90)" text-anchor="end">RIL41</text>
<circle cx="428.87" cy="316.8" r="1.9" fill="#000"/>
<text class="lb" transform="translate(430.06,320.4) rotate(-90)" text-anchor="end">RIL42</text>
<circle cx="435.08" cy="316.8" r="1.9" fill="#000"/>
<text class="lb" transform="translate(436.28,320.4) rotate(-90)" text-anchor="end">RIL43</text>
<circle cx="441.30" cy="316.8" r="1.9" fill="#000"/>
<text class="lb" transform="translate(442.50,320.4) rotate(-90)" text-anchor="end">RIL45</text>
<circle cx="447.51" cy="316.8" r="1.9" fill="#000"/>
<text class="lb" transform="translate(448.71,320.4) rotate(-90)" text-anchor="end">RIL47</text>
<circle cx="453.72" cy="316.8" r="1.9" fill="#000"/>
<text class="lb" transform="translate(454.92,320.4) rotate(-90)" text-anchor="end">RIL49</text>
<circle cx="459.94" cy="316.8" r="1.9" fill="#000"/>
<text class="lb" transform="translate(461.14,320.4) rotate(-90)" text-anchor="end">RIL51</text>
<circle cx="466.15" cy="316.8" r="1.9" fill="#000"/>
<text class="lb" transform="translate(467.35,320.4) rotate(-90)" text-anchor="end">RIL54</text>
<circle cx="472.37" cy="316.8" r="1.9" fill="#000"/>
<text class="lb" transform="translate(473.57,320.4) rotate(-90)" text-anchor="end">RIL55</text>
<circle cx="478.58" cy="316.8" r="1.9" fill="#000"/>
<text class="lb" transform="translate(479.78,320.4) rotate(-90)" text-anchor="end">RIL57</text>
<circle cx="484.80" cy="316.8" r="1.9" fill="#000"/>
<text class="lb" transform="translate(486.00,320.4) rotate(-90)" text-anchor="end">RIL58</text>
<circle cx="491.01" cy="316.8" r="1.9" fill="#000"/>
<text class="lb" transform="translate(492.21,320.4) rotate(-90)" text-anchor="end">RIL59</text>
<circle cx="497.23" cy="316.8" r="1.9" fill="#000"/>
<text class="lb" transform="translate(498.43,320.4) rotate(-90)" text-anchor="end">RIL60</text>
<circle cx="503.44" cy="316.8" r="1.9" fill="#000"/>
<text class="lb" transform="translate(504.64,320.4) rotate(-90)" text-anchor="end">RIL62</text>
<circle cx="509.66" cy="316.8" r="1.9" fill="#000"/>
<text class="lb" transform="translate(510.86,320.4) rotate(-90)" text-anchor="end">RIL67</text>
<circle cx="515.88" cy="316.8" r="1.9" fill="#000"/>
<text class="lb" transform="translate(517.08,320.4) rotate(-90)" text-anchor="end">RIL70</text>
<circle cx="522.09" cy="316.8" r="1.9" fill="#000"/>
<text class="lb" transform="translate(523.29,320.4) rotate(-90)" text-anchor="end">RIL71</text>
<circle cx="528.31" cy="316.8" r="1.75" fill="#fff" stroke="#222" stroke-width="0.45"/>
<text class="lb" transform="translate(529.51,320.4) rotate(-90)" text-anchor="end">RIL66</text>
<circle cx="534.52" cy="316.8" r="1.9" fill="#000"/>
<text class="lb" transform="translate(535.72,320.4) rotate(-90)" text-anchor="end">RIL73</text>
<circle cx="540.74" cy="316.8" r="1.9" fill="#000"/>
<text class="lb" transform="translate(541.94,320.4) rotate(-90)" text-anchor="end">RIL74</text>
<rect x="210.80" y="185.85" width="0.9" height="132.95" fill="#fff"/>
<rect x="280.75" y="185.85" width="0.95" height="132.95" fill="#fff"/>
<text class="yt" transform="translate(29.5,279.40) rotate(-90)" textLength="60.6" lengthAdjust="spacingAndGlyphs">Admixture ratio</text>
<text class="gp" x="98.8" y="261.6" textLength="33.6" lengthAdjust="spacingAndGlyphs">Group I</text>
<text class="gp" x="227.9" y="254.4" textLength="39.5" lengthAdjust="spacingAndGlyphs">Admixed</text>
<text class="gp" x="233.5" y="267.8" textLength="28.6" lengthAdjust="spacingAndGlyphs">Group</text>
<text class="gp" x="397.8" y="261.3" textLength="36.4" lengthAdjust="spacingAndGlyphs">Group II</text>
<text class="pl" x="2.6" y="341.3">(b)</text>
<text class="xt" x="242.6" y="341.6" textLength="97.3" lengthAdjust="spacingAndGlyphs">Line No. of RIL population</text>
</svg>
</body></html>
